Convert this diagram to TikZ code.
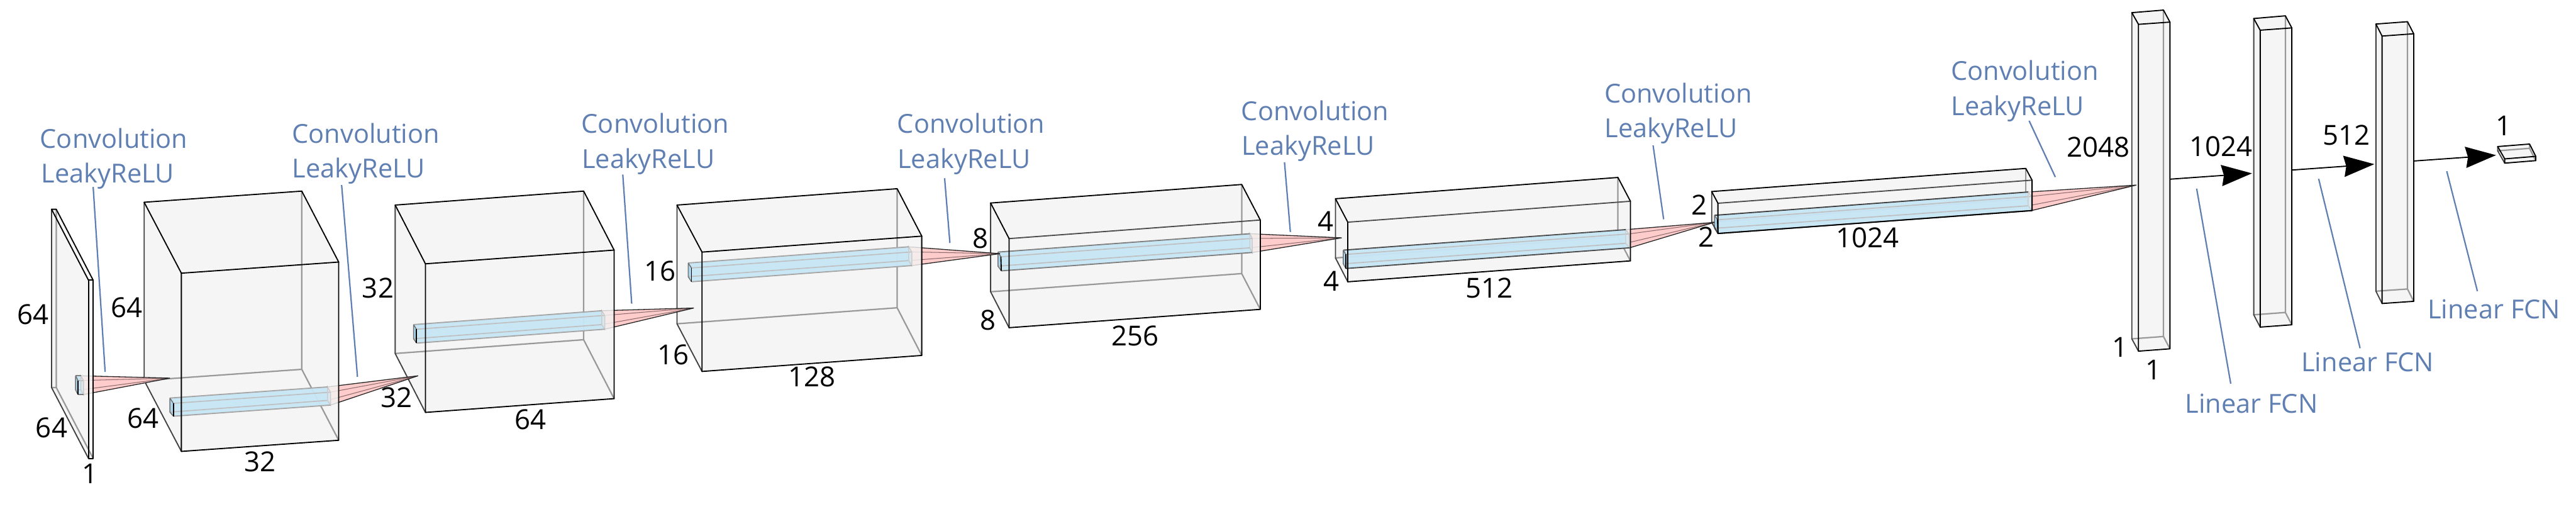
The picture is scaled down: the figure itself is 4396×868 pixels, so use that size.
\documentclass[tikz,border=0pt]{standalone}
\usepackage{fontspec}
\setmainfont{Open Sans}
\usetikzlibrary{arrows.meta}
\definecolor{boxfill}{HTML}{F3F3F3}
\definecolor{hiddenedge}{HTML}{999999}
\definecolor{barfill}{HTML}{C8E6F6}
\definecolor{barleft}{HTML}{A9D7F0}
\definecolor{barend}{HTML}{DCE9F0}
\definecolor{conefill}{HTML}{FFCCCC}
\definecolor{coneline}{HTML}{8A6A6A}
\definecolor{leaderblue}{HTML}{5F7FB3}
\tikzset{
  solidedge/.style={line width=1pt,line join=round,line cap=round},
  backedge/.style={line width=1.2pt,draw=hiddenedge,line join=round,line cap=round},
  leaderline/.style={line width=1.2pt,draw=leaderblue},
  dimlabel/.style={anchor=base,inner sep=0pt,font=\fontsize{23.5}{23.5}\selectfont,text=black},
  opslabel/.style={anchor=base west,inner sep=0pt,font=\fontsize{22.3}{22.3}\selectfont,text=leaderblue},
  flowarrow/.style={line width=1pt,-{Stealth[length=26pt,width=18pt,inset=2pt]}}
}
% corner naming: a back-left-top, b back-right-top, c front-right-top, d front-left-top,
%                e back-left-bottom, f back-right-bottom, g front-right-bottom, h front-left-bottom
\newcommand{\corners}[9]{%
  \coordinate (#1a) at (#2); \coordinate (#1b) at (#3); \coordinate (#1c) at (#4); \coordinate (#1d) at (#5);
  \coordinate (#1e) at (#6); \coordinate (#1f) at (#7); \coordinate (#1g) at (#8); \coordinate (#1h) at (#9);}
\newcommand{\blockback}[1]{%
  \fill[boxfill,opacity=.82] (#1a)--(#1b)--(#1c)--(#1g)--(#1h)--(#1e)--cycle;
  \draw[backedge] (#1b)--(#1f) (#1e)--(#1f) (#1f)--(#1g);}
\newcommand{\blockfront}[2]{%
  \draw[solidedge,draw=black!75] (#1a)--(#1e)--(#1h);
  \draw[solidedge] (#1a)--(#1b)--(#1c) (#1a)--(#1d);
  \draw[solidedge,draw=#2] (#1d)--(#1c);
  \draw[solidedge] (#1d)--(#1h)--(#1g)--(#1c);}
\newcommand{\innerbar}[2]{%
  \fill[barfill,opacity=.96] (#1a)--(#1b)--(#1c)--(#1g)--(#1h)--(#1e)--cycle;
  \fill[barleft] (#1a)--(#1d)--(#1h)--(#1e)--cycle;
  \fill[barend,opacity=.8] (#1b)--(#1c)--(#1g)--(#1f)--cycle;
  \draw[line width=.9pt,draw=black!25] (#1d)--(#1c) (#1e)--(#1f);
  \draw[line width=.8pt,draw=black!20] (#1b)--(#1c)--(#1g)--(#1f)--cycle;
  \draw[line width=1pt,draw=#2] (#1a)--(#1b) (#1h)--(#1g);
  \draw[line width=.8pt,draw=black!55] (#1a)--(#1d) (#1h)--(#1e)--(#1a);
  \draw[line width=1pt,draw=black] (#1d)--(#1h);}
\newcommand{\cone}[2]{%
  \fill[conefill] (#1b)--(#2)--(#1g)--(#1c)--cycle;
  \draw[line width=.55pt,draw=coneline] (#1c)--(#2) (#1f)--(#2);
  \draw[line width=.7pt,draw=black!85] (#1b)--(#2) (#1g)--(#2);}
\newcommand{\blockall}[2]{\blockback{#1}\blockfront{#1}{#2}}
\newcommand{\leader}[3]{\coordinate (#1s) at (#2); \coordinate (#1t) at (#3); \draw[leaderline] (#1s)--(#1t);}
\newcommand{\opspair}[5]{%
  \node[opslabel] (#1c) at (#2,#3) {Convolution};
  \node[opslabel] (#1l) at (#4,#5) {LeakyReLU};}
\begin{document}
\begin{tikzpicture}[x=0.5pt,y=-0.5pt]
\useasboundingbox (0,0) rectangle (4396,868);
\fill[white] (0,0) rectangle (4396,868);
% geometry
\corners{s0}{88,357}{96,357}{159,478}{151,478}{88,661}{96,661}{159,782}{151,782}
\corners{b1}{246,345}{515,326}{578,447}{309.5,466}{246,649}{515,630}{578,751}{309.5,770}
\corners{b2}{674.4,349.8}{996,326}{1048,426.6}{726,450}{674.4,603}{996,579.5}{1048,680}{726,703.5}
\corners{b3}{1155.3,349.8}{1531,321.9}{1573,402.8}{1198,430}{1155.3,552.3}{1531,525}{1573,606.3}{1198,633.6}
\corners{b4}{1690.5,346.3}{2119,314.7}{2150.7,375.3}{1722,407}{1690.5,497.7}{2119,466.7}{2150.7,527.7}{1722,559}
\corners{b5}{2279,339}{2761,302.7}{2782.3,343.3}{2300,379}{2279,440}{2761,404}{2782.3,445}{2300,480.7}
\corners{b6}{2921,326.7}{3457,287.3}{3467.7,307.3}{2931.7,346.7}{2921,379}{3457,339}{3467.7,359.3}{2931.7,398.3}
\corners{c1}{3638,21.6}{3692,17.2}{3703,37.7}{3649.3,41.5}{3638,578}{3692,574}{3703,595}{3649.3,599}
\corners{c2}{3846,31.6}{3900,27}{3911,47.6}{3857,51.5}{3846,537}{3900,533}{3911,554}{3857,558}
\corners{c3}{4054.5,41}{4108.4,37}{4119,57.6}{4065,61.5}{4054.5,496.7}{4108.4,493}{4119,514}{4065,517.7}
\corners{o1}{4262.3,250}{4316.7,245.7}{4327.3,266.7}{4274.3,271}{4262.3,257.3}{4316.7,253}{4327.3,274}{4274.3,278.3}
\corners{r0}{129,641}{138,641}{142.5,649}{133,649}{129,665}{138,665}{142.5,673}{133,673}
\corners{r1}{290,679}{559,660}{564,669}{296,688}{290,703}{559,683}{564,691}{296,710}
\corners{r2}{705.7,553.7}{1027,530}{1032,538}{710.8,561.6}{705.7,577.8}{1027,553.7}{1032,561.6}{710.8,585.3}
\corners{r3}{1174.4,448.6}{1550.7,421}{1556,429.7}{1180,457}{1174.4,472}{1550.7,444.5}{1556,453}{1180,480.6}
\corners{r4}{1703,430}{2133,398.7}{2137,406.7}{1708,438}{1703,454}{2133,422.7}{2137,430.7}{1708.7,462}
\corners{r5}{2292.3,426.7}{2774.3,391.7}{2780,399}{2296.7,434}{2292.3,450}{2774.3,415}{2781,422.7}{2296.7,458}
\corners{r6}{2925.7,367.3}{3461,327.5}{3467,335}{2931,375}{2925.7,389.5}{3461,351}{3467.7,359}{2931.7,398.3}
\coordinate (p1) at (290,645);
\coordinate (p2) at (713.5,641);
\coordinate (p3) at (1184,525.4);
\coordinate (p4) at (1706.6,432.7);
\coordinate (p5) at (2289.6,405.7);
\coordinate (p6) at (2925.7,379.3);
\coordinate (p7) at (3645.7,315.7);
\coordinate (a1s) at (3703.8,305.6); \coordinate (a1t) at (3843,295.7);
\coordinate (a2s) at (3912,290);     \coordinate (a2t) at (4051.8,280);
\coordinate (a3s) at (4119.8,274.6); \coordinate (a3t) at (4259.5,264.7);
% painted right to left
\blockall{o1}{black}
\draw[flowarrow] (a3s)--(a3t);
\blockall{c3}{black}
\draw[flowarrow] (a2s)--(a2t);
\blockall{c2}{black}
\draw[flowarrow] (a1s)--(a1t);
\blockall{c1}{black}
\cone{r6}{p7}
\blockback{b6}\innerbar{r6}{black!75}\blockfront{b6}{black!70}
\cone{r5}{p6}
\blockback{b5}\innerbar{r5}{black!70}\blockfront{b5}{black!70}
\cone{r4}{p5}
\blockback{b4}\innerbar{r4}{black!50}\blockfront{b4}{black!70}
\cone{r3}{p4}
\blockback{b3}\innerbar{r3}{black!35}\blockfront{b3}{black}
\cone{r2}{p3}
\blockback{b2}\innerbar{r2}{black!35}\blockfront{b2}{black}
\cone{r1}{p2}
\blockback{b1}\innerbar{r1}{black!35}\blockfront{b1}{black}
\cone{r0}{p1}
\blockback{s0}\innerbar{r0}{black!50}\blockfront{s0}{black}
% dimensions
\node[dimlabel] (d01) at (56.4,553) {64};
\node[dimlabel] (d02) at (88,746) {64};
\node[dimlabel] (d03) at (154,825) {1};
\node[dimlabel] (d04) at (216,541) {64};
\node[dimlabel] (d05) at (244.4,730.7) {64};
\node[dimlabel] (d06) at (443.4,804.4) {32};
\node[dimlabel] (d07) at (645,508) {32};
\node[dimlabel] (d08) at (677,695) {32};
\node[dimlabel] (d09) at (905,733) {64};
\node[dimlabel] (d10) at (1126,479) {16};
\node[dimlabel] (d11) at (1149,622) {16};
\node[dimlabel] (d12) at (1386,660) {128};
\node[dimlabel] (d13) at (1673,423) {8};
\node[dimlabel] (d14) at (1685.6,563) {8};
\node[dimlabel] (d15) at (1937,590) {256};
\node[dimlabel] (d16) at (2262,394) {4};
\node[dimlabel] (d17) at (2272,496) {4};
\node[dimlabel] (d18) at (2541.4,508) {512};
\node[dimlabel] (d19) at (2899.6,367) {2};
\node[dimlabel] (d20) at (2912,421) {2};
\node[dimlabel] (d21) at (3186.6,422) {1024};
\node[dimlabel] (d22) at (3581,267.7) {2048};
\node[dimlabel] (d23) at (3617.4,609) {1};
\node[dimlabel] (d24) at (3675,648) {1};
\node[dimlabel] (d25) at (3790,267) {1024};
\node[dimlabel] (d26) at (4004,247) {512};
\node[dimlabel] (d27) at (4273,231) {1};
% operations
\opspair{t1}{68}{252.4}{70}{311.4}
\opspair{t2}{498}{243.7}{498.5}{303.6}
\opspair{t3}{992}{227}{992.5}{287}
\opspair{t4}{1531}{227}{1531.5}{287}
\opspair{t5}{2118}{205.7}{2118.5}{265}
\opspair{t6}{2737.5}{176}{2738}{234}
\opspair{t7}{3329}{136.7}{3329.5}{196.7}
\node[opslabel] (f1) at (3728.7,705) {Linear FCN};
\node[opslabel] (f2) at (3927,634) {Linear FCN};
\node[opslabel] (f3) at (4142.6,543.7) {Linear FCN};
\leader{l1}{159,319}{179.4,634.4}
\leader{l2}{583,315.7}{610,642.7}
\leader{l3}{1062.8,297.8}{1078,518}
\leader{l4}{1612,304}{1621,414.5}
\leader{l5}{2192,276.7}{2202,395.7}
\leader{l6}{2821,248}{2839,374}
\leader{l7}{3462.7,206}{3507.4,302}
\leader{l8}{3748.6,321.7}{3806.8,654.5}
\leader{l9}{3956.8,305}{4027.5,594}
\leader{l10}{4175.4,292}{4227.7,496.7}
\end{tikzpicture}
\end{document}
